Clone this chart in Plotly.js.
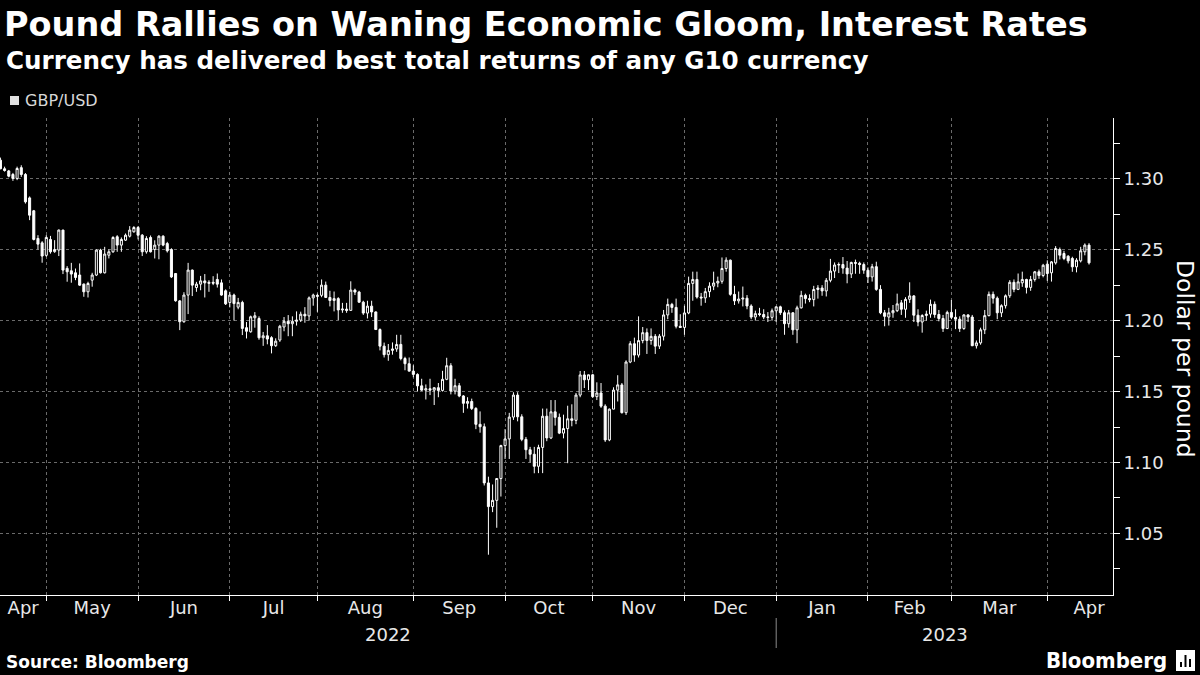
<!DOCTYPE html>
<html><head><meta charset="utf-8">
<script src="https://cdn.plot.ly/plotly-3.0.1.min.js"></script>
<style>html,body{margin:0;padding:0;background:#000;} #chart{width:1200px;height:675px;}</style>
</head><body><div id="chart"></div>
<script>
// ---- data (GBP/USD daily OHLC, weekdays from startDate) ----
const startDate = '2022-04-14';
const calendarEnd = '2023-04-30';
const seriesName = 'GBP/USD';
const monthAbbr = ['Jan','Feb','Mar','Apr','May','Jun','Jul','Aug','Sep','Oct','Nov','Dec'];
const yTicks = [1.05, 1.10, 1.15, 1.20, 1.25, 1.30];
const yTickText = ['1.05','1.10','1.15','1.20','1.25','1.30'];
const yMinorTicks = [1.025, 1.075, 1.125, 1.175, 1.225, 1.275, 1.325];

const open = [
1.3131,1.3070,1.3055,1.3030,1.3002,1.3078,1.3030,1.2865,1.2774,1.2579,
1.2548,1.2460,1.2572,1.2486,1.2497,1.2638,1.2368,1.2351,1.2337,1.2321,
1.2257,1.2203,1.2285,1.2321,1.2497,1.2337,1.2461,1.2485,1.2591,1.2532,
1.2567,1.2595,1.2626,1.2656,1.2602,1.2485,1.2586,1.2501,1.2532,1.2595,
1.2543,1.2501,1.2332,1.2139,1.1992,1.2180,1.2356,1.2233,1.2257,1.2280,
1.2262,1.2270,1.2290,1.2266,1.2210,1.2128,1.2180,1.2095,1.2128,1.1950,
1.1921,1.2020,1.2015,1.1879,1.1893,1.1880,1.1823,1.1863,1.1955,1.1995,
1.1978,1.1995,1.2003,1.2045,1.2033,1.2160,1.2170,1.2178,1.2250,1.2163,
1.2142,1.2155,1.2075,1.2081,1.2072,1.2215,1.2201,1.2130,1.2053,1.2102,
1.2061,1.1937,1.1820,1.1760,1.1790,1.1800,1.1832,1.1733,1.1696,1.1644,
1.1621,1.1540,1.1510,1.1520,1.1510,1.1527,1.1508,1.1586,1.1682,1.1503,
1.1541,1.1469,1.1417,1.1430,1.1381,1.1269,1.1252,1.0856,1.0689,1.0733,
1.0887,1.1119,1.1166,1.1320,1.1475,1.1322,1.1163,1.1090,1.1058,1.0973,
1.1106,1.1326,1.1173,1.1357,1.1318,1.1207,1.1239,1.1308,1.1297,1.1475,
1.1617,1.1583,1.1618,1.1464,1.1490,1.1397,1.1159,1.1376,1.1510,1.1547,
1.1351,1.1708,1.1837,1.1757,1.1859,1.1915,1.1860,1.1889,1.1820,1.1890,
1.2040,1.2114,1.2093,1.1960,1.1952,1.2054,1.2262,1.2290,1.2166,1.2160,
1.2204,1.2243,1.2265,1.2277,1.2367,1.2426,1.2185,1.2139,1.2152,1.2158,
1.2103,1.2025,1.2049,1.2043,1.2025,1.2023,1.2069,1.2097,1.2056,1.1978,
1.2055,1.1935,1.2090,1.2178,1.2155,1.2148,1.2219,1.2230,1.2209,1.2284,
1.2349,1.2392,1.2395,1.2370,1.2329,1.2410,1.2404,1.2395,1.2355,1.2308,
1.2380,1.2220,1.2055,1.2025,1.2055,1.2070,1.2125,1.2080,1.2150,1.2174,
1.2038,1.1990,1.2036,1.2046,1.2115,1.2043,1.2015,1.1944,1.2058,1.2023,
1.2010,1.1944,1.2040,1.2025,1.1823,1.1843,1.1935,1.2035,1.2185,1.2158,
1.2055,1.2105,1.2175,1.2270,1.2220,1.2266,1.2290,1.2234,1.2290,1.2344,
1.2318,1.2398,1.2337,1.2407,1.2501,1.2473,1.2454,1.2438,1.2379,1.2421,
1.2485,1.2532];

const high = [
1.3149,1.3085,1.3062,1.3041,1.3085,1.3095,1.3040,1.2875,1.2780,1.2602,
1.2560,1.2602,1.2597,1.2567,1.2642,1.2640,1.2384,1.2407,1.2367,1.2403,
1.2262,1.2274,1.2337,1.2502,1.2506,1.2520,1.2502,1.2595,1.2602,1.2586,
1.2614,1.2666,1.2666,1.2666,1.2610,1.2595,1.2600,1.2566,1.2602,1.2602,
1.2555,1.2510,1.2335,1.2145,1.2200,1.2407,1.2360,1.2273,1.2315,1.2328,
1.2285,1.2313,1.2332,1.2290,1.2220,1.2203,1.2190,1.2160,1.2140,1.1990,
1.2035,1.2060,1.2030,1.1920,1.1968,1.1890,1.1875,1.1970,1.2025,1.2039,
1.2030,1.2065,1.2063,1.2095,1.2170,1.2190,1.2190,1.2290,1.2275,1.2210,
1.2205,1.2165,1.2125,1.2125,1.2277,1.2225,1.2210,1.2140,1.2140,1.2140,
1.2065,1.1945,1.1845,1.1835,1.1846,1.1900,1.1900,1.1745,1.1740,1.1685,
1.1628,1.1590,1.1550,1.1590,1.1530,1.1560,1.1646,1.1738,1.1700,1.1590,
1.1560,1.1475,1.1460,1.1450,1.1390,1.1360,1.1275,1.0900,1.0845,1.0890,
1.1125,1.1235,1.1350,1.1495,1.1495,1.1340,1.1180,1.1110,1.1110,1.1125,
1.1380,1.1380,1.1440,1.1440,1.1345,1.1337,1.1400,1.1410,1.1490,1.1645,
1.1645,1.1620,1.1625,1.1565,1.1560,1.1410,1.1380,1.1530,1.1615,1.1560,
1.1720,1.1855,1.1880,1.2030,1.1955,1.1945,1.1945,1.1905,1.1905,1.2075,
1.2155,1.2125,1.2155,1.2045,1.2105,1.2310,1.2345,1.2345,1.2195,1.2230,
1.2270,1.2345,1.2310,1.2445,1.2446,1.2430,1.2245,1.2205,1.2240,1.2180,
1.2115,1.2070,1.2090,1.2080,1.2060,1.2085,1.2100,1.2105,1.2072,1.2075,
1.2060,1.2105,1.2210,1.2190,1.2185,1.2245,1.2250,1.2250,1.2300,1.2435,
1.2410,1.2410,1.2448,1.2420,1.2415,1.2430,1.2415,1.2410,1.2375,1.2400,
1.2415,1.2250,1.2075,1.2090,1.2110,1.2190,1.2145,1.2165,1.2270,1.2180,
1.2080,1.2045,1.2070,1.2148,1.2135,1.2075,1.2040,1.2070,1.2145,1.2080,
1.2030,1.2045,1.2045,1.2040,1.1860,1.1950,1.2075,1.2205,1.2205,1.2170,
1.2115,1.2185,1.2285,1.2290,1.2332,1.2345,1.2295,1.2315,1.2350,1.2360,
1.2400,1.2425,1.2420,1.2525,1.2515,1.2492,1.2461,1.2450,1.2440,1.2520,
1.2544,1.2546];

const low = [
1.3067,1.3050,1.3010,1.2985,1.2990,1.3013,1.2825,1.2708,1.2565,1.2501,
1.2408,1.2450,1.2472,1.2478,1.2455,1.2328,1.2274,1.2267,1.2285,1.2245,
1.2168,1.2163,1.2239,1.2314,1.2332,1.2332,1.2438,1.2478,1.2485,1.2485,
1.2562,1.2586,1.2620,1.2572,1.2455,1.2472,1.2480,1.2438,1.2432,1.2524,
1.2480,1.2300,1.2133,1.1933,1.1985,1.2046,1.2173,1.2203,1.2214,1.2163,
1.2203,1.2250,1.2233,1.2175,1.2110,1.2093,1.2000,1.2080,1.1898,1.1874,
1.1915,1.1950,1.1865,1.1822,1.1833,1.1769,1.1815,1.1850,1.1925,1.1890,
1.1890,1.1965,1.1990,1.1985,1.2000,1.2105,1.2062,1.2165,1.2160,1.2100,
1.2065,1.2004,1.2055,1.2055,1.2070,1.2180,1.2125,1.2040,1.2015,1.2025,
1.1935,1.1790,1.1740,1.1717,1.1760,1.1780,1.1720,1.1650,1.1640,1.1600,
1.1500,1.1505,1.1444,1.1475,1.1405,1.1460,1.1500,1.1580,1.1480,1.1480,
1.1460,1.1350,1.1380,1.1370,1.1235,1.1210,1.0838,1.0350,1.0650,1.0540,
1.0760,1.1025,1.1025,1.1300,1.1290,1.1150,1.1025,1.1000,1.0924,1.0925,
1.0925,1.1150,1.1165,1.1260,1.1200,1.1170,1.0995,1.1255,1.1270,1.1460,
1.1525,1.1510,1.1455,1.1440,1.1385,1.1145,1.1150,1.1375,1.1430,1.1345,
1.1335,1.1700,1.1710,1.1740,1.1840,1.1765,1.1830,1.1765,1.1800,1.1860,
1.2010,1.2055,1.1945,1.1950,1.1900,1.2045,1.2140,1.2155,1.2105,1.2125,
1.2165,1.2215,1.2235,1.2260,1.2345,1.2175,1.2110,1.2120,1.2100,1.2080,
1.2010,1.2000,1.2030,1.2010,1.1990,1.2000,1.1990,1.2040,1.1900,1.1950,
1.1900,1.1841,1.2085,1.2120,1.2130,1.2100,1.2155,1.2175,1.2170,1.2270,
1.2300,1.2335,1.2330,1.2263,1.2300,1.2330,1.2330,1.2330,1.2265,1.2275,
1.2210,1.2045,1.1960,1.1965,1.2020,1.2060,1.2040,1.2020,1.2125,1.1990,
1.1960,1.1915,1.2000,1.2020,1.2020,1.1995,1.1920,1.1940,1.2010,1.1940,
1.1920,1.1935,1.1990,1.1820,1.1803,1.1830,1.1905,1.2030,1.2120,1.2010,
1.2025,1.2085,1.2160,1.2200,1.2215,1.2238,1.2191,1.2210,1.2275,1.2295,
1.2305,1.2280,1.2275,1.2395,1.2431,1.2426,1.2403,1.2344,1.2340,1.2410,
1.2460,1.2395];

const close = [
1.3070,1.3058,1.3018,1.3002,1.3072,1.3030,1.2837,1.2743,1.2572,1.2539,
1.2455,1.2586,1.2485,1.2501,1.2638,1.2356,1.2344,1.2328,1.2304,1.2250,
1.2203,1.2262,1.2321,1.2497,1.2337,1.2469,1.2485,1.2586,1.2532,1.2572,
1.2602,1.2638,1.2656,1.2602,1.2485,1.2579,1.2485,1.2532,1.2595,1.2532,
1.2492,1.2308,1.2140,1.1992,1.2180,1.2356,1.2250,1.2257,1.2280,1.2266,
1.2270,1.2264,1.2257,1.2180,1.2118,1.2180,1.2120,1.2128,1.1945,1.1925,
1.2027,1.2034,1.1879,1.1893,1.1870,1.1823,1.1855,1.1960,1.1995,1.1978,
1.1995,1.2003,1.2045,1.2033,1.2160,1.2180,1.2178,1.2250,1.2163,1.2142,
1.2155,1.2075,1.2081,1.2072,1.2215,1.2201,1.2130,1.2053,1.2102,1.2061,
1.1937,1.1820,1.1760,1.1790,1.1800,1.1832,1.1733,1.1696,1.1644,1.1621,
1.1540,1.1510,1.1520,1.1510,1.1527,1.1508,1.1586,1.1682,1.1503,1.1541,
1.1469,1.1417,1.1430,1.1381,1.1269,1.1252,1.0856,1.0689,1.0733,1.0887,
1.1119,1.1166,1.1320,1.1475,1.1322,1.1163,1.1090,1.1058,1.0973,1.1106,
1.1326,1.1173,1.1357,1.1318,1.1207,1.1239,1.1308,1.1297,1.1475,1.1617,
1.1583,1.1618,1.1464,1.1490,1.1397,1.1159,1.1376,1.1510,1.1547,1.1351,
1.1708,1.1837,1.1757,1.1859,1.1915,1.1860,1.1889,1.1820,1.1890,1.2040,
1.2114,1.2093,1.1960,1.1952,1.2054,1.2262,1.2290,1.2166,1.2160,1.2204,
1.2243,1.2265,1.2277,1.2367,1.2426,1.2185,1.2139,1.2152,1.2158,1.2103,
1.2025,1.2049,1.2043,1.2025,1.2023,1.2069,1.2097,1.2056,1.1978,1.2055,
1.1935,1.2090,1.2178,1.2155,1.2148,1.2219,1.2230,1.2209,1.2284,1.2349,
1.2392,1.2395,1.2370,1.2329,1.2410,1.2404,1.2395,1.2355,1.2308,1.2380,
1.2220,1.2055,1.2030,1.2055,1.2070,1.2118,1.2080,1.2150,1.2174,1.2038,
1.1990,1.2036,1.2046,1.2115,1.2043,1.2015,1.1944,1.2058,1.2023,1.2010,
1.1944,1.2040,1.2025,1.1823,1.1843,1.1935,1.2035,1.2185,1.2158,1.2055,
1.2105,1.2175,1.2270,1.2220,1.2273,1.2290,1.2234,1.2290,1.2344,1.2318,
1.2390,1.2332,1.2414,1.2508,1.2461,1.2438,1.2421,1.2379,1.2426,1.2492,
1.2532,1.2407];

// ---- weekday calendar -> positional x ----
function weekdaysBetween(a, b){
  const out = []; const d = new Date(a + 'T00:00:00Z'); const end = new Date(b + 'T00:00:00Z');
  while (d <= end){ const w = d.getUTCDay(); if (w !== 0 && w !== 6) out.push(new Date(d)); d.setUTCDate(d.getUTCDate() + 1); }
  return out;
}
const calendar = weekdaysBetween(startDate, calendarEnd);
const n = close.length;
const xIdx = Array.from({length: n}, (_, i) => i);
const dateLabels = calendar.slice(0, n).map(d => d.toISOString().slice(0, 10));

const xRange = [-0.1, 266.75];

// month ends (gridlines) and month label centres
const monthEnds = []; const monthInfo = [];
for (let k = 0; k < calendar.length; k++){
  const last = (k === calendar.length - 1) || calendar[k].getUTCMonth() !== calendar[k+1].getUTCMonth();
  if (last){ monthEnds.push(k); monthInfo.push({m: calendar[k].getUTCMonth(), y: calendar[k].getUTCFullYear()}); }
}
const monthCenters = monthEnds.map((e, j) => ((j === 0 ? xRange[0] : Math.max(monthEnds[j-1], xRange[0])) + e) / 2);
const monthText = monthInfo.map(o => monthAbbr[o.m]);

// year spans
const yearStartIdx = monthInfo.findIndex((o, j) => j > 0 && o.y !== monthInfo[j-1].y);
const yearBoundary = monthEnds[yearStartIdx - 1];
const years = [monthInfo[0].y, monthInfo[yearStartIdx].y];
const yearCenters = [(xRange[0] + yearBoundary) / 2, (yearBoundary + xRange[1]) / 2];

// ---- pixel helpers for paper coords ----
const W = 1200, H = 675, ML = 0, MR = 87, MT = 118, MB = 80;
const PW = W - ML - MR, PH = H - MT - MB;
const px = x => (x - ML) / PW;
const py = y => (H - MB - y) / PH;

const tickFont = {family: 'DejaVu Sans, sans-serif', size: 18, color: '#e8e8e8'};
const boldFam = 'DejaVu Sans, sans-serif';

const trace = {
  type: 'candlestick', x: xIdx, open: open, high: high, low: low, close: close,
  name: seriesName, text: dateLabels, hoverinfo: 'skip',
  increasing: {line: {color: '#ffffff', width: 1}, fillcolor: '#000000'},
  decreasing: {line: {color: '#ffffff', width: 1}, fillcolor: '#ffffff'},
  whiskerwidth: 0, showlegend: false
};
// carrier so the month-label axis is drawn (no visible marks)
const monthAxisCarrier = {
  type: 'scatter', mode: 'markers', x: monthCenters, y: monthCenters.map(() => null),
  xaxis: 'x2', yaxis: 'y', hoverinfo: 'skip', showlegend: false, marker: {opacity: 0}
};

const layout = {
  width: W, height: H,
  paper_bgcolor: '#000000', plot_bgcolor: '#000000',
  margin: {l: ML, r: MR, t: MT, b: MB, pad: 0},
  showlegend: false, boxgap: 0.3,
  title: {text: 'Pound Rallies on Waning Economic Gloom, Interest Rates',
          x: 4 / W, xanchor: 'left', xref: 'container', y: 1 - 24 / H, yanchor: 'middle', yref: 'container',
          font: {family: boldFam, size: 33.5, color: '#ffffff', weight: 700}},
  xaxis: {type: 'linear', range: xRange, tickvals: monthEnds, showticklabels: false,
          ticks: 'outside', ticklen: 5, tickcolor: '#ffffff', tickwidth: 1,
          showgrid: true, gridcolor: '#6a6a6a', griddash: '3px,3px', gridwidth: 1,
          showline: true, linecolor: '#ffffff', linewidth: 1, zeroline: false,
          rangeslider: {visible: false}, fixedrange: true},
  xaxis2: {type: 'linear', overlaying: 'x', anchor: 'y', side: 'bottom', range: xRange,
           tickmode: 'array', tickvals: monthCenters, ticktext: monthText,
           ticks: '', showgrid: false, showline: false, zeroline: false, tickfont: tickFont, fixedrange: true},
  yaxis: {side: 'right', range: [1.0066, 1.3428], tickmode: 'array', tickvals: yTicks, ticktext: yTickText,
          ticks: 'outside', ticklen: 6, tickcolor: '#ffffff', tickwidth: 1,
          showline: true, linecolor: '#ffffff', linewidth: 1,
          showgrid: true, gridcolor: '#6a6a6a', griddash: '3px,3px', gridwidth: 1, zeroline: false,
          tickfont: tickFont, fixedrange: true,
          minor: {tickmode: 'array', tickvals: yMinorTicks, ticks: 'outside', ticklen: 6, tickcolor: '#ffffff', showgrid: false}},
  annotations: [
    {text: 'Currency has delivered best total returns of any G10 currency', xref: 'paper', yref: 'paper',
     x: px(4), y: py(60), xanchor: 'left', yanchor: 'middle', showarrow: false,
     font: {family: boldFam, size: 24.6, color: '#ffffff', weight: 700}},
    {text: seriesName, xref: 'paper', yref: 'paper', x: px(23), y: py(101), xanchor: 'left', yanchor: 'middle', showarrow: false,
     font: {family: 'DejaVu Sans, sans-serif', size: 16, color: '#d8d8d8'}},
    {text: 'Dollar per pound', xref: 'paper', yref: 'paper', x: px(1185), y: py(359), xanchor: 'center', yanchor: 'middle',
     textangle: 90, showarrow: false, font: {family: 'DejaVu Sans, sans-serif', size: 23.5, color: '#ffffff'}},
    {text: String(years[0]), xref: 'x', yref: 'paper', x: yearCenters[0], y: py(634), xanchor: 'center', yanchor: 'middle', showarrow: false, font: tickFont},
    {text: String(years[1]), xref: 'x', yref: 'paper', x: yearCenters[1], y: py(634), xanchor: 'center', yanchor: 'middle', showarrow: false, font: tickFont},
    {text: 'Source: Bloomberg', xref: 'paper', yref: 'paper', x: px(4), y: py(662), xanchor: 'left', yanchor: 'middle', showarrow: false,
     font: {family: boldFam, size: 17, color: '#ffffff', weight: 700}},
    {text: 'Bloomberg', xref: 'paper', yref: 'paper', x: px(1169), y: py(660), xanchor: 'right', yanchor: 'middle', showarrow: false,
     font: {family: 'DejaVu Sans Condensed, DejaVu Sans, sans-serif', size: 22, color: '#ffffff', weight: 700}}
  ],
  shapes: [
    {type: 'rect', xref: 'paper', yref: 'paper', x0: px(10), x1: px(19), y0: py(105), y1: py(96), fillcolor: '#e0e0e0', line: {width: 0}},
    {type: 'line', xref: 'x', yref: 'paper', x0: yearBoundary, x1: yearBoundary, y0: py(618), y1: py(648), line: {color: '#8a8a8a', width: 1}},
    {type: 'rect', xref: 'paper', yref: 'paper', x0: px(1176), x1: px(1195), y0: py(671), y1: py(650), fillcolor: '#ffffff', line: {width: 0}},
    {type: 'line', xref: 'paper', yref: 'paper', x0: px(1181), x1: px(1181), y0: py(667), y1: py(662), line: {color: '#000000', width: 2}},
    {type: 'line', xref: 'paper', yref: 'paper', x0: px(1185.5), x1: px(1185.5), y0: py(667), y1: py(655), line: {color: '#000000', width: 2}},
    {type: 'line', xref: 'paper', yref: 'paper', x0: px(1190), x1: px(1190), y0: py(667), y1: py(659), line: {color: '#000000', width: 2}}
  ]
};

Plotly.newPlot('chart', [trace, monthAxisCarrier], layout, {displayModeBar: false, staticPlot: true});
</script>
</body></html>
